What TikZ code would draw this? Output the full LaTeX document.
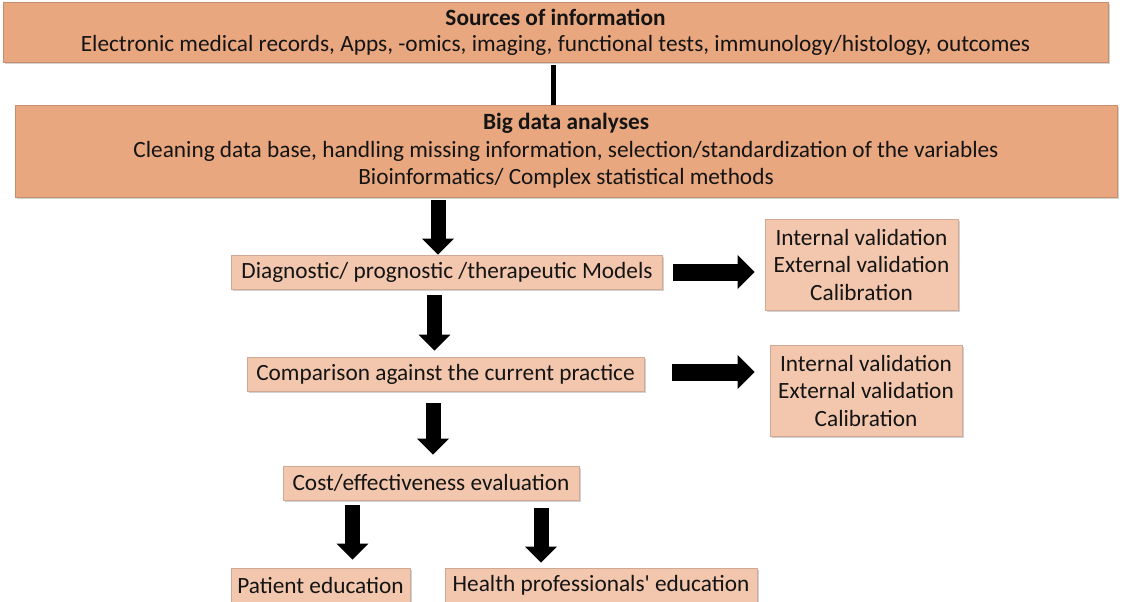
\documentclass[tikz,border=0pt]{standalone}
\usepackage{fontspec}
\setmainfont{Carlito}[Ligatures=TeXOff]
\usetikzlibrary{arrows.meta,shadows,calc}
\definecolor{boxdark}{RGB}{233,167,127}
\definecolor{boxlight}{RGB}{243,199,173}
\definecolor{txt}{RGB}{20,20,20}
\tikzset{
  bigbox/.style={fill=boxdark, draw=boxdark!85!black, line width=0.6pt, align=center, inner sep=0pt, text=txt, font=\fontsize{23.3}{26.5}\selectfont, drop shadow={shadow xshift=1.5pt, shadow yshift=-2pt, opacity=0.35}},
  smallbox/.style={fill=boxlight, draw=boxlight!85!black, line width=0.6pt, align=center, inner sep=0pt, text=txt, font=\fontsize{23.3}{27.5}\selectfont, drop shadow={shadow xshift=1.5pt, shadow yshift=-2pt, opacity=0.35}},
  downarrow/.style={line width=15pt, -{Triangle[width=31pt,length=16pt]}, black},
  rightarrow/.style={line width=17pt, -{Triangle[width=33pt,length=17pt]}, black},
}
\begin{document}
\begin{tikzpicture}[x=1pt,y=-1pt]
\useasboundingbox (0,0) rectangle (1125,602);
\fill[white] (0,0) rectangle (1125,602);

\node[bigbox, minimum width=1105pt, minimum height=60pt] (src) at (555.5,32.5)
  {\textbf{Sources of information}\\Electronic medical records, Apps, -omics, imaging, functional tests, immunology/histology, outcomes};
\node[bigbox, minimum width=1102pt, minimum height=92pt, font=\fontsize{23.3}{27.5}\selectfont] (big) at (566,151)
  {\textbf{Big data analyses}\\Cleaning data base, handling missing information, selection/standardization of the variables\\Bioinformatics/ Complex statistical methods};

\draw[line width=5pt] (src.south -| 553,0) ++(0,2) coordinate (l1) -- (l1 |- big.north);

\node[smallbox, minimum width=431pt, minimum height=34pt] (diag) at (447,272) {Diagnostic/ prognostic /therapeutic Models};
\node[smallbox, minimum width=193pt, minimum height=91pt] (val1) at (861.5,264.5) {Internal validation\\External validation\\Calibration};
\node[smallbox, minimum width=397pt, minimum height=34pt] (comp) at (445.5,374) {Comparison against the current practice};
\node[smallbox, minimum width=192pt, minimum height=91pt] (val2) at (866,390.5) {Internal validation\\External validation\\Calibration};
\node[smallbox, minimum width=296pt, minimum height=34pt] (cost) at (431,483) {Cost/effectiveness evaluation};
\node[smallbox, minimum width=179pt, minimum height=34pt] (pat) at (320.5,585) {Patient education};
\node[smallbox, minimum width=312pt, minimum height=34pt] (hp) at (601,585) {Health professionals' education};

\draw[downarrow] ([xshift=-9pt,yshift=-3pt]diag.north |- big.south) -- ([xshift=-9pt]diag.north);
\draw[downarrow] ([xshift=-11pt,yshift=-6pt]comp.north |- diag.south) -- ([xshift=-11pt,yshift=6pt]comp.north);
\draw[downarrow] ([xshift=2pt,yshift=-12pt]cost.north |- comp.south) -- ([xshift=2pt,yshift=11pt]cost.north);
\draw[downarrow] ([xshift=32pt,yshift=-5pt]pat.north |- cost.south) -- ([xshift=32pt,yshift=8pt]pat.north);
\draw[downarrow] ([xshift=-60pt,yshift=-8pt]hp.north |- cost.south) -- ([xshift=-60pt,yshift=5pt]hp.north);

\draw[rightarrow] ([xshift=10pt]diag.east) -- ([xshift=-10pt]diag.east -| val1.west);
\draw[rightarrow] ([xshift=28pt,yshift=2pt]comp.east) -- ([xshift=-15pt,yshift=2pt]comp.east -| val2.west);
\end{tikzpicture}
\end{document}
